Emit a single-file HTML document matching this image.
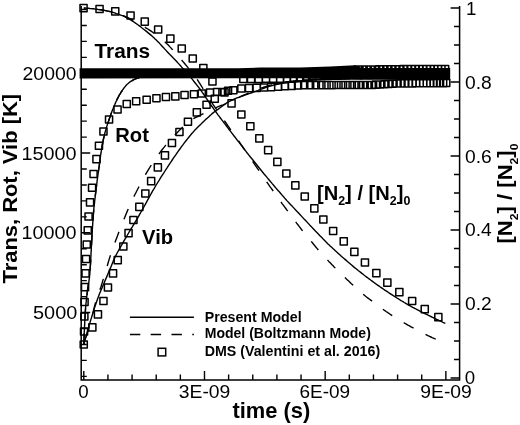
<!DOCTYPE html>
<html><head><meta charset="utf-8"><style>
html,body{margin:0;padding:0;background:#fff;}
svg{display:block;font-family:"Liberation Sans",Arial,Helvetica,sans-serif;}
</style></head><body>
<svg width="520" height="425" viewBox="0 0 520 425">
<path d="M81.2 6.0V380.75M80.45 380.0H460.35M459.6 380.75V6.0" fill="none" stroke="#000" stroke-width="1.5"/>
<path d="M81.2 376.35h5.6M81.2 360.40h5.6M81.2 344.45h5.6M81.2 328.50h5.6M81.2 312.55h9M81.2 296.60h5.6M81.2 280.65h5.6M81.2 264.70h5.6M81.2 248.75h5.6M81.2 232.80h9M81.2 216.85h5.6M81.2 200.90h5.6M81.2 184.95h5.6M81.2 169.00h5.6M81.2 153.05h9M81.2 137.10h5.6M81.2 121.15h5.6M81.2 105.20h5.6M81.2 89.25h5.6M81.2 73.30h9M81.2 57.35h5.6M81.2 41.40h5.6M81.2 25.45h5.6M81.2 9.50h5.6M83.80 380.0v-9M107.94 380.0v-5.6M132.08 380.0v-5.6M156.21 380.0v-5.6M180.35 380.0v-5.6M204.49 380.0v-9M228.63 380.0v-5.6M252.77 380.0v-5.6M276.90 380.0v-5.6M301.04 380.0v-5.6M325.18 380.0v-9M349.32 380.0v-5.6M373.46 380.0v-5.6M397.59 380.0v-5.6M421.73 380.0v-5.6M445.87 380.0v-9M459.6 378.00h-9M459.6 359.50h-5.6M459.6 341.00h-5.6M459.6 322.50h-5.6M459.6 304.00h-9M459.6 285.50h-5.6M459.6 267.00h-5.6M459.6 248.50h-5.6M459.6 230.00h-9M459.6 211.50h-5.6M459.6 193.00h-5.6M459.6 174.50h-5.6M459.6 156.00h-9M459.6 137.50h-5.6M459.6 119.00h-5.6M459.6 100.50h-5.6M459.6 82.00h-9M459.6 63.50h-5.6M459.6 45.00h-5.6M459.6 26.50h-5.6M459.6 8.00h-9" fill="none" stroke="#000" stroke-width="1.4"/>
<polyline points="83.8,8.0 85.0,8.1 86.2,8.1 87.4,8.2 88.6,8.3 89.8,8.5 91.1,8.6 92.3,8.7 93.5,8.8 94.7,9.0 95.9,9.1 97.1,9.3 98.3,9.5 99.5,9.6 100.7,9.8 101.9,10.0 103.1,10.2 104.4,10.4 105.6,10.6 106.8,10.9 108.0,11.1 109.2,11.4 110.4,11.7 111.6,12.0 112.8,12.3 114.0,12.7 115.2,13.1 116.4,13.6 117.7,14.0 118.9,14.5 120.1,14.9 121.3,15.3 122.5,15.7 123.7,16.2 124.9,16.7 126.1,17.3 127.3,17.9 128.5,18.6 129.7,19.4 131.0,20.2 132.2,20.9 133.4,21.7 134.6,22.5 135.8,23.3 137.0,24.2 138.2,25.0 139.4,25.9 140.6,26.8 141.8,27.8 143.0,28.7 144.3,29.7 145.5,30.6 146.7,31.6 147.9,32.6 149.1,33.6 150.3,34.6 151.5,35.6 152.7,36.7 153.9,37.8 155.1,39.0 156.3,40.1 157.6,41.4 158.8,42.6 160.0,43.9 161.2,45.2 162.4,46.5 163.6,47.8 164.8,49.1 166.0,50.4 167.2,51.7 168.4,53.0 169.6,54.3 170.9,55.5 172.1,56.7 173.3,58.0 174.5,59.2 175.7,60.5 176.9,61.8 178.1,63.1 179.3,64.4 180.5,65.7 181.7,67.1 182.9,68.4 184.1,69.8 185.4,71.1 186.6,72.5 187.8,73.9 189.0,75.3 190.2,76.7 191.4,78.1 192.6,79.6 193.8,81.2 195.0,82.7 196.2,84.2 197.4,85.8 198.7,87.4 199.9,89.0 201.1,90.7 202.3,92.4 203.5,94.0 204.7,95.8 205.9,97.6 207.1,99.4 208.3,101.2 209.5,103.0 210.7,104.8 212.0,106.5 213.2,108.2 214.4,109.9 215.6,111.5 216.8,113.1 218.0,114.8 219.2,116.4 220.4,118.0 221.6,119.6 222.8,121.2 224.0,122.8 225.3,124.4 226.5,126.0 227.7,127.6 228.9,129.2 230.1,130.7 231.3,132.3 232.5,133.9 233.7,135.5 234.9,137.0 236.1,138.6 237.3,140.2 238.6,141.7 239.8,143.3 241.0,144.9 242.2,146.4 243.4,148.0 244.6,149.6 245.8,151.1 247.0,152.7 248.2,154.2 249.4,155.8 250.6,157.3 251.9,158.8 253.1,160.3 254.3,161.8 255.5,163.3 256.7,164.8 257.9,166.3 259.1,167.8 260.3,169.3 261.5,170.8 262.7,172.2 263.9,173.7 265.2,175.2 266.4,176.6 267.6,178.1 268.8,179.5 270.0,181.0 271.2,182.4 272.4,183.9 273.6,185.3 274.8,186.7 276.0,188.1 277.2,189.5 278.5,190.9 279.7,192.3 280.9,193.7 282.1,195.1 283.3,196.5 284.5,197.9 285.7,199.2 286.9,200.6 288.1,201.9 289.3,203.2 290.5,204.5 291.8,205.8 293.0,207.1 294.2,208.4 295.4,209.7 296.6,211.0 297.8,212.2 299.0,213.5 300.2,214.8 301.4,216.1 302.6,217.4 303.8,218.7 305.1,220.0 306.3,221.3 307.5,222.6 308.7,223.9 309.9,225.2 311.1,226.4 312.3,227.7 313.5,229.0 314.7,230.3 315.9,231.6 317.1,232.8 318.4,234.1 319.6,235.4 320.8,236.6 322.0,237.8 323.2,239.1 324.4,240.3 325.6,241.5 326.8,242.7 328.0,243.9 329.2,245.0 330.4,246.2 331.7,247.3 332.9,248.5 334.1,249.6 335.3,250.7 336.5,251.8 337.7,252.9 338.9,254.0 340.1,255.1 341.3,256.2 342.5,257.3 343.7,258.3 345.0,259.4 346.2,260.4 347.4,261.5 348.6,262.5 349.8,263.5 351.0,264.5 352.2,265.5 353.4,266.6 354.6,267.6 355.8,268.5 357.0,269.5 358.2,270.5 359.5,271.5 360.7,272.4 361.9,273.4 363.1,274.3 364.3,275.3 365.5,276.2 366.7,277.1 367.9,278.0 369.1,278.9 370.3,279.8 371.5,280.7 372.8,281.6 374.0,282.5 375.2,283.4 376.4,284.2 377.6,285.1 378.8,285.9 380.0,286.8 381.2,287.6 382.4,288.4 383.6,289.2 384.8,290.1 386.1,290.9 387.3,291.7 388.5,292.5 389.7,293.3 390.9,294.1 392.1,294.9 393.3,295.7 394.5,296.4 395.7,297.2 396.9,298.0 398.1,298.7 399.4,299.5 400.6,300.3 401.8,301.0 403.0,301.7 404.2,302.5 405.4,303.2 406.6,303.9 407.8,304.6 409.0,305.3 410.2,305.9 411.4,306.6 412.7,307.3 413.9,307.9 415.1,308.5 416.3,309.2 417.5,309.8 418.7,310.4 419.9,311.1 421.1,311.7 422.3,312.3 423.5,312.9 424.7,313.5 426.0,314.1 427.2,314.7 428.4,315.3 429.6,315.9 430.8,316.5 432.0,317.1 433.2,317.7 434.4,318.3 435.6,318.9 436.8,319.5 438.0,320.0 439.3,320.6 440.5,321.2 441.7,321.7 442.9,322.3 444.1,322.8 445.3,323.4" fill="none" stroke="#000" stroke-width="1.4"/>
<polyline points="83.8,8.0 85.0,8.1 86.2,8.1 87.4,8.2 88.6,8.3 89.8,8.5 91.1,8.6 92.3,8.7 93.5,8.9 94.7,9.0 95.9,9.1 97.1,9.3 98.3,9.5 99.5,9.6 100.7,9.8 101.9,10.0 103.1,10.2 104.4,10.4 105.6,10.6 106.8,10.9 108.0,11.2 109.2,11.4 110.4,11.7 111.6,12.0 112.8,12.3 114.0,12.7 115.2,13.1 116.5,13.4 117.7,13.8 118.9,14.3 120.1,14.7 121.3,15.1 122.5,15.5 123.7,16.0 124.9,16.5 126.1,17.0 127.3,17.5 128.5,18.0 129.8,18.6 131.0,19.1 132.2,19.7 133.4,20.4 134.6,21.0 135.8,21.6 137.0,22.3 138.2,23.1 139.4,23.8 140.6,24.6 141.8,25.3 143.1,26.1 144.3,26.8 145.5,27.6 146.7,28.3 147.9,29.0 149.1,29.8 150.3,30.6 151.5,31.4 152.7,32.2 153.9,33.1 155.2,33.9 156.4,34.8 157.6,35.7 158.8,36.7 160.0,37.7 161.2,38.6 162.4,39.7 163.6,40.7 164.8,41.8 166.0,42.9 167.2,44.1 168.5,45.3 169.7,46.6 170.9,47.9 172.1,49.2 173.3,50.5 174.5,51.9 175.7,53.2 176.9,54.6 178.1,56.0 179.3,57.4 180.5,58.8 181.8,60.2 183.0,61.6 184.2,63.0 185.4,64.5 186.6,65.9 187.8,67.4 189.0,68.8 190.2,70.3 191.4,71.8 192.6,73.3 193.9,74.9 195.1,76.5 196.3,78.2 197.5,79.9 198.7,81.8 199.9,83.7 201.1,85.6 202.3,87.5 203.5,89.4 204.7,91.3 205.9,93.3 207.2,95.2 208.4,97.2 209.6,99.1 210.8,101.0 212.0,102.8 213.2,104.7 214.4,106.4 215.6,108.2 216.8,109.9 218.0,111.6 219.2,113.4 220.5,115.1 221.7,116.8 222.9,118.6 224.1,120.3 225.3,122.0 226.5,123.7 227.7,125.5 228.9,127.2 230.1,128.9 231.3,130.6 232.6,132.4 233.8,134.1 235.0,135.8 236.2,137.5 237.4,139.3 238.6,141.0 239.8,142.7 241.0,144.5 242.2,146.2 243.4,148.0 244.6,149.7 245.9,151.5 247.1,153.2 248.3,155.0 249.5,156.7 250.7,158.5 251.9,160.3 253.1,162.0 254.3,163.8 255.5,165.6 256.7,167.4 257.9,169.2 259.2,170.9 260.4,172.7 261.6,174.5 262.8,176.2 264.0,178.0 265.2,179.7 266.4,181.5 267.6,183.2 268.8,184.9 270.0,186.6 271.3,188.3 272.5,190.0 273.7,191.7 274.9,193.4 276.1,195.1 277.3,196.9 278.5,198.5 279.7,200.2 280.9,201.9 282.1,203.6 283.3,205.2 284.6,206.9 285.8,208.5 287.0,210.2 288.2,211.8 289.4,213.4 290.6,215.1 291.8,216.7 293.0,218.3 294.2,219.9 295.4,221.5 296.6,223.1 297.9,224.7 299.1,226.3 300.3,227.9 301.5,229.5 302.7,231.0 303.9,232.5 305.1,234.0 306.3,235.5 307.5,237.0 308.7,238.5 310.0,239.9 311.2,241.4 312.4,242.8 313.6,244.3 314.8,245.7 316.0,247.2 317.2,248.6 318.4,250.0 319.6,251.3 320.8,252.7 322.0,254.0 323.3,255.4 324.5,256.7 325.7,258.0 326.9,259.3 328.1,260.6 329.3,261.9 330.5,263.1 331.7,264.4 332.9,265.6 334.1,266.9 335.3,268.1 336.6,269.3 337.8,270.5 339.0,271.7 340.2,272.9 341.4,274.1 342.6,275.3 343.8,276.5 345.0,277.6 346.2,278.8 347.4,279.9 348.7,281.1 349.9,282.2 351.1,283.4 352.3,284.5 353.5,285.6 354.7,286.8 355.9,287.9 357.1,289.0 358.3,290.1 359.5,291.2 360.7,292.3 362.0,293.3 363.2,294.3 364.4,295.3 365.6,296.3 366.8,297.2 368.0,298.1 369.2,299.0 370.4,299.9 371.6,300.8 372.8,301.7 374.0,302.6 375.3,303.5 376.5,304.5 377.7,305.4 378.9,306.3 380.1,307.2 381.3,308.1 382.5,309.0 383.7,309.8 384.9,310.7 386.1,311.5 387.4,312.3 388.6,313.2 389.8,314.0 391.0,314.8 392.2,315.6 393.4,316.4 394.6,317.2 395.8,317.9 397.0,318.7 398.2,319.4 399.4,320.1 400.7,320.9 401.9,321.6 403.1,322.3 404.3,323.0 405.5,323.7 406.7,324.4 407.9,325.1 409.1,325.7 410.3,326.4 411.5,327.1 412.7,327.7 414.0,328.4 415.2,329.0 416.4,329.7 417.6,330.3 418.8,330.9 420.0,331.6 421.2,332.2 422.4,332.8 423.6,333.4 424.8,334.1 426.1,334.7 427.3,335.3 428.5,335.9 429.7,336.4 430.9,337.0 432.1,337.6 433.3,338.1 434.5,338.7 435.7,339.2 436.9,339.8 438.1,340.3 439.4,340.9 440.6,341.4 441.8,341.9 443.0,342.4 444.2,342.9 445.4,343.4" fill="none" stroke="#000" stroke-width="1.4" stroke-dasharray="11.3 13.48" stroke-dashoffset="9.44"/>
<polyline points="83.8,344.5 85.0,340.2 86.2,335.9 87.4,331.5 88.6,327.1 89.9,322.9 91.1,318.9 92.3,315.0 93.5,311.1 94.7,307.4 95.9,303.8 97.1,300.3 98.3,297.0 99.5,293.8 100.8,290.8 102.0,287.9 103.2,285.0 104.4,282.2 105.6,279.4 106.8,276.6 108.0,273.7 109.2,270.9 110.5,267.9 111.7,264.9 112.9,261.9 114.1,259.1 115.3,256.6 116.5,254.2 117.7,252.0 118.9,249.8 120.1,247.6 121.4,245.5 122.6,243.3 123.8,241.2 125.0,239.1 126.2,237.1 127.4,235.0 128.6,233.0 129.8,230.9 131.0,228.9 132.3,226.9 133.5,224.9 134.7,222.9 135.9,220.9 137.1,218.9 138.3,216.8 139.5,214.7 140.7,212.5 141.9,210.4 143.2,208.2 144.4,206.0 145.6,203.8 146.8,201.6 148.0,199.4 149.2,197.2 150.4,195.0 151.6,192.8 152.8,190.7 154.1,188.6 155.3,186.5 156.5,184.5 157.7,182.5 158.9,180.6 160.1,178.6 161.3,176.7 162.5,174.8 163.8,172.9 165.0,171.0 166.2,169.1 167.4,167.3 168.6,165.4 169.8,163.6 171.0,161.8 172.2,160.0 173.4,158.2 174.7,156.4 175.9,154.7 177.1,152.9 178.3,151.2 179.5,149.5 180.7,147.8 181.9,146.2 183.1,144.6 184.3,142.9 185.6,141.3 186.8,139.8 188.0,138.2 189.2,136.7 190.4,135.3 191.6,133.8 192.8,132.5 194.0,131.1 195.2,129.8 196.5,128.5 197.7,127.3 198.9,126.1 200.1,124.9 201.3,123.8 202.5,122.6 203.7,121.4 204.9,120.3 206.1,119.1 207.4,118.0 208.6,116.9 209.8,115.7 211.0,114.7 212.2,113.6 213.4,112.6 214.6,111.7 215.8,110.8 217.1,109.9 218.3,109.1 219.5,108.2 220.7,107.3 221.9,106.4 223.1,105.5 224.3,104.6 225.5,103.8 226.7,102.9 228.0,102.2 229.2,101.5 230.4,100.9 231.6,100.3 232.8,99.8 234.0,99.2 235.2,98.7 236.4,98.2 237.6,97.7 238.9,97.3 240.1,96.8 241.3,96.4 242.5,96.0 243.7,95.5 244.9,95.1 246.1,94.7 247.3,94.3 248.5,93.8 249.8,93.4 251.0,93.0 252.2,92.6 253.4,92.2 254.6,91.7 255.8,91.3 257.0,90.8 258.2,90.4 259.4,89.9 260.7,89.4 261.9,88.9 263.1,88.5 264.3,88.0 265.5,87.6 266.7,87.2 267.9,86.8 269.1,86.4 270.4,86.1 271.6,85.7 272.8,85.4 274.0,85.0 275.2,84.8 276.4,84.5 277.6,84.2 278.8,84.0 280.0,83.7 281.3,83.4 282.5,83.2 283.7,83.0 284.9,82.7 286.1,82.5 287.3,82.3 288.5,82.1 289.7,81.9 290.9,81.8 292.2,81.6 293.4,81.5 294.6,81.3 295.8,81.2 297.0,81.1 298.2,81.0 299.4,80.9 300.6,80.9 301.8,80.8 303.1,80.7 304.3,80.6 305.5,80.5 306.7,80.5 307.9,80.4 309.1,80.3 310.3,80.3 311.5,80.2 312.7,80.2 314.0,80.1 315.2,80.0 316.4,80.0 317.6,79.9 318.8,79.9 320.0,79.9 321.2,79.8 322.4,79.8 323.7,79.7 324.9,79.7 326.1,79.6 327.3,79.6 328.5,79.6 329.7,79.5 330.9,79.5 332.1,79.4 333.3,79.4 334.6,79.4 335.8,79.3 337.0,79.3 338.2,79.2 339.4,79.2 340.6,79.2 341.8,79.1 343.0,79.1 344.2,79.1 345.5,79.0 346.7,79.0 347.9,79.0 349.1,79.0 350.3,78.9 351.5,78.9 352.7,78.9 353.9,78.8 355.1,78.8 356.4,78.8 357.6,78.8 358.8,78.7 360.0,78.7 361.2,78.7 362.4,78.7 363.6,78.6 364.8,78.6 366.0,78.6 367.3,78.6 368.5,78.5 369.7,78.5 370.9,78.5 372.1,78.5 373.3,78.4 374.5,78.4 375.7,78.4 377.0,78.4 378.2,78.3 379.4,78.3 380.6,78.3 381.8,78.3 383.0,78.2 384.2,78.2 385.4,78.2 386.6,78.2 387.9,78.1 389.1,78.1 390.3,78.1 391.5,78.1 392.7,78.1 393.9,78.0 395.1,78.0 396.3,78.0 397.5,78.0 398.8,77.9 400.0,77.9 401.2,77.9 402.4,77.9 403.6,77.9 404.8,77.8 406.0,77.8 407.2,77.8 408.4,77.8 409.7,77.7 410.9,77.7 412.1,77.7 413.3,77.7 414.5,77.7 415.7,77.6 416.9,77.6 418.1,77.6 419.3,77.6 420.6,77.6 421.8,77.5 423.0,77.5 424.2,77.5 425.4,77.5 426.6,77.5 427.8,77.5 429.0,77.4 430.3,77.4 431.5,77.4 432.7,77.4 433.9,77.4 435.1,77.3 436.3,77.3 437.5,77.3 438.7,77.3 439.9,77.3 441.2,77.3 442.4,77.2 443.6,77.2 444.8,77.2 446.0,77.2" fill="none" stroke="#000" stroke-width="1.4"/>
<polyline points="83.8,344.5 85.0,340.6 86.2,336.6 87.4,332.6 88.6,328.6 89.9,324.5 91.1,320.2 92.3,315.5 93.5,310.4 94.7,305.6 95.9,301.3 97.1,297.4 98.3,293.8 99.5,290.6 100.8,287.2 102.0,283.4 103.2,279.4 104.4,275.5 105.6,271.5 106.8,267.5 108.0,263.3 109.2,259.1 110.5,255.2 111.7,251.6 112.9,248.2 114.1,244.9 115.3,241.6 116.5,238.4 117.7,235.2 118.9,232.0 120.1,228.9 121.4,225.9 122.6,222.8 123.8,219.7 125.0,216.7 126.2,213.7 127.4,210.9 128.6,208.0 129.8,205.3 131.0,202.6 132.3,200.0 133.5,197.5 134.7,195.0 135.9,192.7 137.1,190.3 138.3,188.0 139.5,185.7 140.7,183.4 141.9,181.1 143.2,178.8 144.4,176.6 145.6,174.4 146.8,172.3 148.0,170.3 149.2,168.4 150.4,166.5 151.6,164.6 152.8,162.7 154.1,160.9 155.3,159.1 156.5,157.4 157.7,155.6 158.9,154.0 160.1,152.3 161.3,150.7 162.5,149.2 163.8,147.6 165.0,146.1 166.2,144.6 167.4,143.2 168.6,141.7 169.8,140.3 171.0,139.0 172.2,137.7 173.4,136.4 174.7,135.1 175.9,133.9 177.1,132.7 178.3,131.5 179.5,130.3 180.7,129.1 181.9,127.9 183.1,126.8 184.3,125.7 185.6,124.6 186.8,123.6 188.0,122.6 189.2,121.6 190.4,120.7 191.6,119.9 192.8,119.1 194.0,118.4 195.2,117.7 196.5,117.1 197.7,116.5 198.9,115.9 200.1,115.3 201.3,114.7 202.5,114.1 203.7,113.5 204.9,112.9 206.1,112.3 207.4,111.7 208.6,111.1 209.8,110.5 211.0,109.9 212.2,109.3 213.4,108.8 214.6,108.2 215.8,107.7 217.1,107.2 218.3,106.7 219.5,106.2 220.7,105.7 221.9,105.2 223.1,104.8 224.3,104.3 225.5,103.8 226.7,103.2 228.0,102.7 229.2,102.1 230.4,101.5 231.6,100.9 232.8,100.3 234.0,99.7 235.2,99.1 236.4,98.5 237.6,97.9 238.9,97.3 240.1,96.8 241.3,96.2 242.5,95.6 243.7,95.1 244.9,94.6 246.1,94.1 247.3,93.6 248.5,93.1 249.8,92.6 251.0,92.2 252.2,91.7 253.4,91.2 254.6,90.8 255.8,90.3 257.0,89.8 258.2,89.3 259.4,88.8 260.7,88.4 261.9,87.9 263.1,87.5 264.3,87.0 265.5,86.6 266.7,86.3 267.9,85.9 269.1,85.5 270.4,85.2 271.6,84.8 272.8,84.5 274.0,84.2 275.2,84.0 276.4,83.7 277.6,83.5 278.8,83.2 280.0,83.0 281.3,82.8 282.5,82.6 283.7,82.4 284.9,82.2 286.1,82.0 287.3,81.8 288.5,81.6 289.7,81.4 290.9,81.3 292.2,81.2 293.4,81.0 294.6,80.9 295.8,80.8 297.0,80.7 298.2,80.6 299.4,80.6 300.6,80.5 301.8,80.4 303.1,80.3 304.3,80.3 305.5,80.2 306.7,80.1 307.9,80.1 309.1,80.0 310.3,79.9 311.5,79.9 312.7,79.8 314.0,79.8 315.2,79.7 316.4,79.7 317.6,79.6 318.8,79.6 320.0,79.5 321.2,79.5 322.4,79.4 323.7,79.4 324.9,79.4 326.1,79.3 327.3,79.3 328.5,79.2 329.7,79.2 330.9,79.2 332.1,79.1 333.3,79.1 334.6,79.1 335.8,79.0 337.0,79.0 338.2,79.0 339.4,78.9 340.6,78.9 341.8,78.9 343.0,78.8 344.2,78.8 345.5,78.8 346.7,78.8 347.9,78.7 349.1,78.7 350.3,78.7 351.5,78.7 352.7,78.6 353.9,78.6 355.1,78.6 356.4,78.5 357.6,78.5 358.8,78.5 360.0,78.5 361.2,78.5 362.4,78.4 363.6,78.4 364.8,78.4 366.0,78.4 367.3,78.3 368.5,78.3 369.7,78.3 370.9,78.3 372.1,78.2 373.3,78.2 374.5,78.2 375.7,78.2 377.0,78.2 378.2,78.1 379.4,78.1 380.6,78.1 381.8,78.1 383.0,78.0 384.2,78.0 385.4,78.0 386.6,78.0 387.9,78.0 389.1,77.9 390.3,77.9 391.5,77.9 392.7,77.9 393.9,77.8 395.1,77.8 396.3,77.8 397.5,77.8 398.8,77.8 400.0,77.7 401.2,77.7 402.4,77.7 403.6,77.7 404.8,77.6 406.0,77.6 407.2,77.6 408.4,77.6 409.7,77.6 410.9,77.5 412.1,77.5 413.3,77.5 414.5,77.5 415.7,77.5 416.9,77.4 418.1,77.4 419.3,77.4 420.6,77.4 421.8,77.4 423.0,77.3 424.2,77.3 425.4,77.3 426.6,77.3 427.8,77.3 429.0,77.2 430.3,77.2 431.5,77.2 432.7,77.2 433.9,77.2 435.1,77.2 436.3,77.1 437.5,77.1 438.7,77.1 439.9,77.1 441.2,77.1 442.4,77.1 443.6,77.0 444.8,77.0 446.0,77.0" fill="none" stroke="#000" stroke-width="1.4" stroke-dasharray="11.3 13.48" stroke-dashoffset="17.14"/>
<polyline points="83.8,344.5 83.8,343.0 83.9,341.6 84.0,340.1 84.0,338.6 84.1,337.1 84.1,335.7 84.2,334.2 84.2,332.7 84.3,331.3 84.4,329.8 84.4,328.3 84.5,326.8 84.6,325.4 84.7,323.9 84.7,322.4 84.8,321.0 84.9,319.5 85.0,318.0 85.0,316.5 85.1,315.1 85.2,313.6 85.3,312.1 85.4,310.7 85.5,309.2 85.6,307.7 85.7,306.3 85.9,304.8 86.0,303.3 86.2,301.9 86.3,300.4 86.5,298.9 86.6,297.5 86.8,296.0 87.0,294.6 87.2,293.1 87.3,291.6 87.5,290.2 87.7,288.7 88.0,287.3 88.2,285.8 88.4,284.3 88.7,282.9 88.9,281.4 89.1,280.0 89.3,278.5 89.5,277.1 89.6,275.6 89.8,274.1 89.9,272.7 90.0,271.2 90.1,269.7 90.2,268.3 90.3,266.8 90.4,265.3 90.5,263.9 90.6,262.4 90.7,260.9 90.7,259.4 90.8,258.0 90.9,256.5 91.0,255.0 91.0,253.6 91.1,252.1 91.2,250.6 91.3,249.1 91.3,247.7 91.4,246.2 91.5,244.7 91.6,243.3 91.7,241.8 91.8,240.3 91.9,238.8 91.9,237.4 92.0,235.9 92.1,234.4 92.2,233.0 92.3,231.5 92.3,230.0 92.4,228.6 92.5,227.1 92.6,225.6 92.7,224.1 92.8,222.7 92.9,221.2 93.0,219.7 93.1,218.3 93.2,216.8 93.3,215.3 93.4,213.9 93.5,212.4 93.7,210.9 93.8,209.5 93.9,208.0 94.1,206.5 94.2,205.1 94.4,203.6 94.6,202.1 94.7,200.7 94.9,199.2 95.1,197.8 95.2,196.3 95.4,194.8 95.6,193.4 95.8,191.9 95.9,190.4 96.1,189.0 96.3,187.5 96.5,186.1 96.7,184.6 96.9,183.1 97.0,181.7 97.2,180.2 97.4,178.8 97.6,177.3 97.8,175.8 98.0,174.4 98.2,172.9 98.4,171.5 98.6,170.0 98.8,168.5 99.1,167.1 99.3,165.6 99.4,164.2 99.6,162.7 99.8,161.2 100.0,159.8 100.2,158.3 100.4,156.9 100.6,155.4 100.8,154.0 101.1,152.5 101.3,151.0 101.5,149.6 101.8,148.1 102.0,146.7 102.3,145.2 102.6,143.8 102.8,142.3 103.1,140.9 103.4,139.4 103.7,138.0 104.1,136.6 104.4,135.1 104.7,133.7 105.1,132.3 105.5,130.9 105.9,129.5 106.3,128.0 106.7,126.6 107.2,125.2 107.6,123.8 108.1,122.4 108.6,121.0 109.1,119.6 109.5,118.2 110.0,116.9 110.5,115.5 111.0,114.1 111.5,112.7 112.0,111.3 112.5,109.9 113.1,108.5 113.6,107.2 114.2,105.8 114.8,104.5 115.4,103.1 116.0,101.8 116.6,100.5 117.2,99.1 117.9,97.8 118.6,96.5 119.3,95.2 120.1,94.0 120.8,92.7 121.6,91.5 122.4,90.2 123.3,89.0 124.2,87.7 125.1,86.6 126.0,85.5 127.0,84.4 128.1,83.5 129.2,82.5 130.4,81.6 131.7,80.8 133.0,80.1 134.3,79.4 135.6,78.8 137.0,78.3 138.4,77.8 139.8,77.4 141.3,77.2 142.7,76.9 144.2,76.8 145.6,76.6 147.1,76.4 148.5,76.3 150.0,76.1 151.5,76.0 153.0,75.9 154.4,75.8 155.9,75.7 157.4,75.6 158.9,75.5 160.4,75.5 161.8,75.4 163.3,75.4 164.8,75.3 166.2,75.3 167.7,75.2 169.2,75.2 170.6,75.1 172.1,75.1 173.6,75.0 175.1,75.0 176.5,75.0 178.0,74.9 179.5,74.9 180.9,74.9 182.4,74.8 183.9,74.8 185.4,74.8 186.8,74.7 188.3,74.7 189.8,74.7 191.3,74.6 192.7,74.6 194.2,74.6 195.7,74.6 197.2,74.5 198.6,74.5 200.1,74.5 201.6,74.5 203.0,74.5 204.5,74.4 206.0,74.4 207.5,74.4 208.9,74.4 210.4,74.3 211.9,74.3 213.3,74.3 214.8,74.3 216.3,74.2 217.8,74.2 219.2,74.2 220.7,74.2 222.2,74.2 223.7,74.1 225.1,74.1 226.6,74.1 228.1,74.1 229.5,74.1 231.0,74.0 232.5,74.0 234.0,74.0 235.4,74.0 236.9,74.0 238.4,74.0 239.9,73.9 241.3,73.9 242.8,73.9 244.3,73.9 245.7,73.9 247.2,73.9 248.7,73.9 250.2,73.9 251.6,73.8 253.1,73.8 254.6,73.8 256.0,73.8 257.5,73.8 259.0,73.8 260.5,73.8 261.9,73.8 263.4,73.8 264.9,73.8 266.4,73.8 267.8,73.8 269.3,73.8 270.8,73.8 272.2,73.8 273.7,73.8 275.2,73.8 276.7,73.7 278.1,73.7 279.6,73.7 281.1,73.7 282.6,73.7 284.0,73.7 285.5,73.7 287.0,73.7 288.4,73.7 289.9,73.7 291.4,73.7 292.9,73.7 294.3,73.7 295.8,73.7 297.3,73.7 298.7,73.7 300.2,73.7 301.7,73.7 303.2,73.7 304.6,73.7 306.1,73.7 307.6,73.7 309.1,73.7 310.5,73.7 312.0,73.7 313.5,73.7 314.9,73.6 316.4,73.6 317.9,73.6 319.4,73.6 320.8,73.6 322.3,73.6 323.8,73.6 325.3,73.6 326.7,73.6 328.2,73.6 329.7,73.6 331.1,73.6 332.6,73.6 334.1,73.6 335.6,73.6 337.0,73.6 338.5,73.6 340.0,73.6 341.5,73.6 342.9,73.6 344.4,73.6 345.9,73.6 347.3,73.6 348.8,73.6 350.3,73.6 351.8,73.6 353.2,73.6 354.7,73.6 356.2,73.6 357.6,73.6 359.1,73.6 360.6,73.6 362.1,73.6 363.5,73.6 365.0,73.6 366.5,73.6 368.0,73.6 369.4,73.6 370.9,73.5 372.4,73.5 373.8,73.5 375.3,73.5 376.8,73.5 378.3,73.5 379.7,73.5 381.2,73.5 382.7,73.5 384.2,73.5 385.6,73.5 387.1,73.5 388.6,73.5 390.0,73.5 391.5,73.5 393.0,73.5 394.5,73.5 395.9,73.5 397.4,73.5 398.9,73.5 400.4,73.5 401.8,73.5 403.3,73.5 404.8,73.5 406.2,73.5 407.7,73.5 409.2,73.5 410.7,73.5 412.1,73.5 413.6,73.5 415.1,73.5 416.5,73.5 418.0,73.5 419.5,73.5 421.0,73.5 422.4,73.5 423.9,73.5 425.4,73.5 426.9,73.5 428.3,73.5 429.8,73.5 431.3,73.5 432.7,73.5 434.2,73.5 435.7,73.5 437.2,73.5 438.6,73.5 440.1,73.5 441.6,73.5 443.1,73.5 444.5,73.5 446.0,73.5" fill="none" stroke="#000" stroke-width="1.4"/>
<polyline points="83.8,344.5 83.8,343.0 83.9,341.6 84.0,340.1 84.0,338.6 84.1,337.1 84.1,335.7 84.2,334.2 84.2,332.7 84.3,331.3 84.4,329.8 84.4,328.3 84.5,326.8 84.6,325.4 84.7,323.9 84.7,322.4 84.8,321.0 84.9,319.5 85.0,318.0 85.0,316.5 85.1,315.1 85.2,313.6 85.3,312.1 85.4,310.7 85.5,309.2 85.6,307.7 85.7,306.3 85.9,304.8 86.0,303.3 86.2,301.9 86.3,300.4 86.5,298.9 86.6,297.5 86.8,296.0 87.0,294.6 87.2,293.1 87.3,291.6 87.5,290.2 87.7,288.7 88.0,287.3 88.2,285.8 88.4,284.3 88.7,282.9 88.9,281.4 89.1,280.0 89.3,278.5 89.5,277.1 89.6,275.6 89.8,274.1 89.9,272.7 90.0,271.2 90.1,269.7 90.2,268.3 90.3,266.8 90.4,265.3 90.5,263.9 90.6,262.4 90.7,260.9 90.7,259.4 90.8,258.0 90.9,256.5 91.0,255.0 91.0,253.6 91.1,252.1 91.2,250.6 91.3,249.1 91.3,247.7 91.4,246.2 91.5,244.7 91.6,243.3 91.7,241.8 91.8,240.3 91.9,238.8 91.9,237.4 92.0,235.9 92.1,234.4 92.2,233.0 92.3,231.5 92.3,230.0 92.4,228.6 92.5,227.1 92.6,225.6 92.7,224.1 92.8,222.7 92.9,221.2 93.0,219.7 93.1,218.3 93.2,216.8 93.3,215.3 93.4,213.9 93.5,212.4 93.7,210.9 93.8,209.5 93.9,208.0 94.1,206.5 94.2,205.1 94.4,203.6 94.6,202.1 94.7,200.7 94.9,199.2 95.1,197.8 95.2,196.3 95.4,194.8 95.6,193.4 95.8,191.9 95.9,190.4 96.1,189.0 96.3,187.5 96.5,186.1 96.7,184.6 96.9,183.1 97.0,181.7 97.2,180.2 97.4,178.8 97.6,177.3 97.8,175.8 98.0,174.4 98.2,172.9 98.4,171.5 98.6,170.0 98.8,168.5 99.1,167.1 99.3,165.6 99.4,164.2 99.6,162.7 99.8,161.2 100.0,159.8 100.2,158.3 100.4,156.9 100.6,155.4 100.8,154.0 101.1,152.5 101.3,151.0 101.5,149.6 101.8,148.1 102.0,146.7 102.3,145.2 102.6,143.8 102.8,142.3 103.1,140.9 103.4,139.4 103.7,138.0 104.1,136.6 104.4,135.1 104.7,133.7 105.1,132.3 105.5,130.9 105.9,129.5 106.3,128.0 106.7,126.6 107.2,125.2 107.6,123.8 108.1,122.4 108.6,121.0 109.1,119.6 109.5,118.2 110.0,116.9 110.5,115.5 111.0,114.1 111.5,112.7 112.0,111.3 112.5,109.9 113.1,108.5 113.6,107.2 114.2,105.8 114.8,104.5 115.4,103.1 116.0,101.8 116.6,100.5 117.2,99.1 117.9,97.8 118.6,96.5 119.3,95.2 120.1,94.0 120.8,92.7 121.6,91.5 122.4,90.2 123.3,89.0 124.2,87.7 125.1,86.6 126.0,85.5 127.0,84.4 128.1,83.5 129.2,82.5 130.4,81.6 131.7,80.8 133.0,80.1 134.3,79.4 135.6,78.8 137.0,78.3 138.4,77.8 139.8,77.4 141.3,77.2 142.7,76.9 144.2,76.8 145.6,76.6 147.1,76.4 148.5,76.3 150.0,76.1 151.5,76.0 153.0,75.9 154.4,75.8 155.9,75.7 157.4,75.6 158.9,75.5 160.4,75.5 161.8,75.4 163.3,75.4 164.8,75.3 166.2,75.3 167.7,75.2 169.2,75.2 170.6,75.1 172.1,75.1 173.6,75.0 175.1,75.0 176.5,75.0 178.0,74.9 179.5,74.9 180.9,74.9 182.4,74.8 183.9,74.8 185.4,74.8 186.8,74.7 188.3,74.7 189.8,74.7 191.3,74.6 192.7,74.6 194.2,74.6 195.7,74.6 197.2,74.5 198.6,74.5 200.1,74.5 201.6,74.5 203.0,74.5 204.5,74.4 206.0,74.4 207.5,74.4 208.9,74.4 210.4,74.3 211.9,74.3 213.3,74.3 214.8,74.3 216.3,74.2 217.8,74.2 219.2,74.2 220.7,74.2 222.2,74.2 223.7,74.1 225.1,74.1 226.6,74.1 228.1,74.1 229.5,74.1 231.0,74.0 232.5,74.0 234.0,74.0 235.4,74.0 236.9,74.0 238.4,74.0 239.9,73.9 241.3,73.9 242.8,73.9 244.3,73.9 245.7,73.9 247.2,73.9 248.7,73.9 250.2,73.9 251.6,73.8 253.1,73.8 254.6,73.8 256.0,73.8 257.5,73.8 259.0,73.8 260.5,73.8 261.9,73.8 263.4,73.8 264.9,73.8 266.4,73.8 267.8,73.8 269.3,73.8 270.8,73.8 272.2,73.8 273.7,73.8 275.2,73.8 276.7,73.7 278.1,73.7 279.6,73.7 281.1,73.7 282.6,73.7 284.0,73.7 285.5,73.7 287.0,73.7 288.4,73.7 289.9,73.7 291.4,73.7 292.9,73.7 294.3,73.7 295.8,73.7 297.3,73.7 298.7,73.7 300.2,73.7 301.7,73.7 303.2,73.7 304.6,73.7 306.1,73.7 307.6,73.7 309.1,73.7 310.5,73.7 312.0,73.7 313.5,73.7 314.9,73.6 316.4,73.6 317.9,73.6 319.4,73.6 320.8,73.6 322.3,73.6 323.8,73.6 325.3,73.6 326.7,73.6 328.2,73.6 329.7,73.6 331.1,73.6 332.6,73.6 334.1,73.6 335.6,73.6 337.0,73.6 338.5,73.6 340.0,73.6 341.5,73.6 342.9,73.6 344.4,73.6 345.9,73.6 347.3,73.6 348.8,73.6 350.3,73.6 351.8,73.6 353.2,73.6 354.7,73.6 356.2,73.6 357.6,73.6 359.1,73.6 360.6,73.6 362.1,73.6 363.5,73.6 365.0,73.6 366.5,73.6 368.0,73.6 369.4,73.6 370.9,73.5 372.4,73.5 373.8,73.5 375.3,73.5 376.8,73.5 378.3,73.5 379.7,73.5 381.2,73.5 382.7,73.5 384.2,73.5 385.6,73.5 387.1,73.5 388.6,73.5 390.0,73.5 391.5,73.5 393.0,73.5 394.5,73.5 395.9,73.5 397.4,73.5 398.9,73.5 400.4,73.5 401.8,73.5 403.3,73.5 404.8,73.5 406.2,73.5 407.7,73.5 409.2,73.5 410.7,73.5 412.1,73.5 413.6,73.5 415.1,73.5 416.5,73.5 418.0,73.5 419.5,73.5 421.0,73.5 422.4,73.5 423.9,73.5 425.4,73.5 426.9,73.5 428.3,73.5 429.8,73.5 431.3,73.5 432.7,73.5 434.2,73.5 435.7,73.5 437.2,73.5 438.6,73.5 440.1,73.5 441.6,73.5 443.1,73.5 444.5,73.5 446.0,73.5" fill="none" stroke="#000" stroke-width="1.4" stroke-dasharray="11.3 13.48" stroke-dashoffset="0"/>
<path d="M80.0 4.6h7.1v7.1h-7.1zM96.0 5.4h7.1v7.1h-7.1zM111.7 7.8h7.1v7.1h-7.1zM127.0 11.9h7.1v7.1h-7.1zM141.2 18.1h7.1v7.1h-7.1zM154.6 25.9h7.1v7.1h-7.1zM166.8 35.1h7.1v7.1h-7.1zM178.2 44.9h7.1v7.1h-7.1zM189.2 55.0h7.1v7.1h-7.1zM199.8 64.5h7.1v7.1h-7.1zM208.9 77.9h7.1v7.1h-7.1zM218.9 88.5h7.1v7.1h-7.1zM228.0 99.8h7.1v7.1h-7.1zM237.8 111.0h7.1v7.1h-7.1zM246.8 122.7h7.1v7.1h-7.1zM255.8 134.8h7.1v7.1h-7.1zM264.6 146.6h7.1v7.1h-7.1zM273.8 158.3h7.1v7.1h-7.1zM282.8 170.0h7.1v7.1h-7.1zM291.8 181.8h7.1v7.1h-7.1zM301.2 193.0h7.1v7.1h-7.1zM310.8 204.8h7.1v7.1h-7.1zM319.8 216.0h7.1v7.1h-7.1zM329.6 227.4h7.1v7.1h-7.1zM340.2 237.8h7.1v7.1h-7.1zM350.8 248.3h7.1v7.1h-7.1zM361.4 258.9h7.1v7.1h-7.1zM372.8 269.6h7.1v7.1h-7.1zM383.8 279.1h7.1v7.1h-7.1zM395.8 288.6h7.1v7.1h-7.1zM408.6 297.4h7.1v7.1h-7.1zM421.2 305.6h7.1v7.1h-7.1zM434.8 313.6h7.1v7.1h-7.1zM80.2 340.9h7.1v7.1h-7.1zM80.5 327.9h7.1v7.1h-7.1zM80.8 312.9h7.1v7.1h-7.1zM81.0 298.4h7.1v7.1h-7.1zM81.5 283.6h7.1v7.1h-7.1zM82.0 269.8h7.1v7.1h-7.1zM82.5 255.4h7.1v7.1h-7.1zM83.2 240.9h7.1v7.1h-7.1zM84.2 226.8h7.1v7.1h-7.1zM85.0 212.9h7.1v7.1h-7.1zM86.5 198.8h7.1v7.1h-7.1zM88.5 184.2h7.1v7.1h-7.1zM90.0 170.4h7.1v7.1h-7.1zM92.9 155.6h7.1v7.1h-7.1zM95.4 142.2h7.1v7.1h-7.1zM99.9 128.0h7.1v7.1h-7.1zM105.5 115.9h7.1v7.1h-7.1zM114.0 106.0h7.1v7.1h-7.1zM123.2 100.5h7.1v7.1h-7.1zM132.6 97.7h7.1v7.1h-7.1zM143.1 96.2h7.1v7.1h-7.1zM152.9 94.7h7.1v7.1h-7.1zM162.4 93.4h7.1v7.1h-7.1zM171.8 92.8h7.1v7.1h-7.1zM181.0 91.5h7.1v7.1h-7.1zM190.4 90.7h7.1v7.1h-7.1zM198.2 90.0h7.1v7.1h-7.1zM206.5 89.0h7.1v7.1h-7.1zM213.5 88.4h7.1v7.1h-7.1zM221.0 88.8h7.1v7.1h-7.1zM224.5 87.2h7.1v7.1h-7.1zM229.8 86.7h7.1v7.1h-7.1zM88.8 323.8h7.1v7.1h-7.1zM94.4 310.8h7.1v7.1h-7.1zM99.9 297.4h7.1v7.1h-7.1zM104.4 283.9h7.1v7.1h-7.1zM109.5 269.8h7.1v7.1h-7.1zM114.2 256.6h7.1v7.1h-7.1zM119.8 243.0h7.1v7.1h-7.1zM125.0 229.6h7.1v7.1h-7.1zM129.9 216.4h7.1v7.1h-7.1zM135.8 203.3h7.1v7.1h-7.1zM141.8 189.9h7.1v7.1h-7.1zM147.6 177.6h7.1v7.1h-7.1zM154.3 163.8h7.1v7.1h-7.1zM161.4 151.8h7.1v7.1h-7.1zM168.4 139.4h7.1v7.1h-7.1zM175.9 128.5h7.1v7.1h-7.1zM184.4 118.2h7.1v7.1h-7.1zM193.3 108.8h7.1v7.1h-7.1zM203.0 101.2h7.1v7.1h-7.1zM211.2 95.2h7.1v7.1h-7.1zM237.8 85.0h7.1v7.1h-7.1zM245.5 84.6h7.1v7.1h-7.1zM253.1 84.3h7.1v7.1h-7.1zM260.4 84.0h7.1v7.1h-7.1zM267.6 83.6h7.1v7.1h-7.1zM274.6 83.2h7.1v7.1h-7.1zM281.4 82.7h7.1v7.1h-7.1zM288.1 82.3h7.1v7.1h-7.1zM294.5 81.8h7.1v7.1h-7.1zM300.7 81.6h7.1v7.1h-7.1zM306.6 81.6h7.1v7.1h-7.1zM312.3 81.6h7.1v7.1h-7.1zM317.8 81.6h7.1v7.1h-7.1zM323.0 81.6h7.1v7.1h-7.1zM328.0 81.6h7.1v7.1h-7.1zM332.9 81.5h7.1v7.1h-7.1zM337.5 81.5h7.1v7.1h-7.1zM342.0 81.5h7.1v7.1h-7.1zM346.5 81.5h7.1v7.1h-7.1zM350.9 81.5h7.1v7.1h-7.1zM355.3 81.5h7.1v7.1h-7.1zM359.6 81.5h7.1v7.1h-7.1zM363.9 81.5h7.1v7.1h-7.1zM368.2 81.4h7.1v7.1h-7.1zM372.4 81.1h7.1v7.1h-7.1zM376.6 80.9h7.1v7.1h-7.1zM380.8 80.7h7.1v7.1h-7.1zM384.9 80.5h7.1v7.1h-7.1zM389.0 80.2h7.1v7.1h-7.1zM393.1 80.0h7.1v7.1h-7.1zM397.1 79.8h7.1v7.1h-7.1zM401.1 79.8h7.1v7.1h-7.1zM405.0 79.8h7.1v7.1h-7.1zM408.8 79.8h7.1v7.1h-7.1zM412.5 79.7h7.1v7.1h-7.1zM416.2 79.7h7.1v7.1h-7.1zM419.8 79.7h7.1v7.1h-7.1zM423.2 79.7h7.1v7.1h-7.1zM426.7 79.7h7.1v7.1h-7.1zM430.0 79.6h7.1v7.1h-7.1zM433.3 79.6h7.1v7.1h-7.1zM436.5 79.6h7.1v7.1h-7.1zM439.6 79.6h7.1v7.1h-7.1zM442.7 79.5h7.1v7.1h-7.1zM239.8 75.3h7.1v7.1h-7.1zM247.5 75.3h7.1v7.1h-7.1zM255.1 75.3h7.1v7.1h-7.1zM262.4 75.2h7.1v7.1h-7.1zM269.6 75.2h7.1v7.1h-7.1zM276.6 75.1h7.1v7.1h-7.1zM283.4 75.1h7.1v7.1h-7.1zM290.1 74.8h7.1v7.1h-7.1zM296.5 73.9h7.1v7.1h-7.1zM302.7 73.0h7.1v7.1h-7.1zM308.6 72.1h7.1v7.1h-7.1zM354.4 66.0h7.1v7.1h-7.1zM358.8 66.0h7.1v7.1h-7.1zM363.0 66.0h7.1v7.1h-7.1zM367.2 65.9h7.1v7.1h-7.1zM371.4 65.9h7.1v7.1h-7.1zM375.6 65.8h7.1v7.1h-7.1zM379.7 65.8h7.1v7.1h-7.1zM383.8 65.8h7.1v7.1h-7.1zM387.9 65.7h7.1v7.1h-7.1zM391.9 65.7h7.1v7.1h-7.1zM395.9 65.7h7.1v7.1h-7.1zM399.9 65.6h7.1v7.1h-7.1zM403.9 65.6h7.1v7.1h-7.1zM407.8 65.6h7.1v7.1h-7.1zM411.6 65.6h7.1v7.1h-7.1zM415.5 65.5h7.1v7.1h-7.1zM419.3 65.5h7.1v7.1h-7.1zM423.1 65.5h7.1v7.1h-7.1zM426.8 65.5h7.1v7.1h-7.1zM430.6 65.4h7.1v7.1h-7.1zM434.3 65.4h7.1v7.1h-7.1zM437.9 65.4h7.1v7.1h-7.1zM441.6 65.4h7.1v7.1h-7.1z" fill="none" stroke="#000" stroke-width="1.5" stroke-linejoin="round"/>
<path d="M79.6 68.3H238L260 67.6L300 67.5L330 66.6L355 65.3L362 68.0H450.2V80.0L370 79.8L330 79.2L300 78.3L240 78.3L79.6 78.6Z" fill="#000"/>
<text x="22.57" y="79.9" font-size="18.7" textLength="53.94" lengthAdjust="spacingAndGlyphs">20000</text>
<text x="21.49" y="159.6" font-size="18.7" textLength="55.04" lengthAdjust="spacingAndGlyphs">15000</text>
<text x="21.49" y="239.4" font-size="18.7" textLength="55.04" lengthAdjust="spacingAndGlyphs">10000</text>
<text x="33.02" y="319.2" font-size="18.7" textLength="44.24" lengthAdjust="spacingAndGlyphs">5000</text>
<text x="78.16" y="398.2" font-size="18.7">0</text>
<text x="178.79" y="398.2" font-size="18.7" textLength="51.54" lengthAdjust="spacingAndGlyphs">3E-09</text>
<text x="299.49" y="398.2" font-size="18.7" textLength="50.6" lengthAdjust="spacingAndGlyphs">6E-09</text>
<text x="420.27" y="398.2" font-size="18.7" textLength="51.54" lengthAdjust="spacingAndGlyphs">9E-09</text>
<text x="464.7" y="384.4" font-size="18.7">0</text>
<text x="465.06" y="310.4" font-size="18.7" textLength="26.74" lengthAdjust="spacingAndGlyphs">0.2</text>
<text x="465.06" y="236.4" font-size="18.7" textLength="26.74" lengthAdjust="spacingAndGlyphs">0.4</text>
<text x="465.06" y="162.5" font-size="18.7" textLength="26.74" lengthAdjust="spacingAndGlyphs">0.6</text>
<text x="465.06" y="88.6" font-size="18.7" textLength="26.74" lengthAdjust="spacingAndGlyphs">0.8</text>
<text x="466.1" y="14.6" font-size="18.7">1</text>
<text x="94.48" y="58.0" font-size="20" font-weight="bold" textLength="55.72" lengthAdjust="spacingAndGlyphs">Trans</text>
<text x="115.29" y="142.1" font-size="20" font-weight="bold" textLength="33.64" lengthAdjust="spacingAndGlyphs">Rot</text>
<text x="142.1" y="243.6" font-size="20" font-weight="bold" textLength="31.07" lengthAdjust="spacingAndGlyphs">Vib</text>
<text x="317.0" y="200.0" font-size="20" font-weight="bold" textLength="93.35" lengthAdjust="spacingAndGlyphs">[N<tspan font-size="12.4" dy="4.6">2</tspan><tspan dy="-4.6">] / [N</tspan><tspan font-size="12.4" dy="4.6">2</tspan><tspan dy="-4.6">]</tspan><tspan font-size="12.4" dy="4.6">0</tspan></text>
<text x="204.69" y="322.0" font-size="14" font-weight="bold" textLength="96.92" lengthAdjust="spacingAndGlyphs">Present Model</text>
<text x="204.7" y="338.4" font-size="14" font-weight="bold" textLength="166.16" lengthAdjust="spacingAndGlyphs">Model (Boltzmann Mode)</text>
<text x="204.68" y="356.0" font-size="14" font-weight="bold" textLength="175.46" lengthAdjust="spacingAndGlyphs">DMS (Valentini et al. 2016)</text>
<text x="232.49" y="418.0" font-size="21.5" font-weight="bold" textLength="77.79" lengthAdjust="spacingAndGlyphs">time (s)</text>
<text x="-283.52" y="17.1" font-size="21" font-weight="bold" textLength="189.61" lengthAdjust="spacingAndGlyphs" transform="rotate(-90)">Trans, Rot, Vib [K]</text>
<text x="-243.49" y="511.8" font-size="21" font-weight="bold" textLength="99.85" lengthAdjust="spacingAndGlyphs" transform="rotate(-90)">[N<tspan font-size="11.5" dy="6.4">2</tspan><tspan dy="-6.4">] / [N</tspan><tspan font-size="11.5" dy="6.4">2</tspan><tspan dy="-6.4">]</tspan><tspan font-size="11.5" dy="6.4">0</tspan></text>
<path d="M129.9 317.3H193.9" stroke="#000" stroke-width="1.5"/>
<path d="M129.9 334.5H193.9" stroke="#000" stroke-width="1.5" stroke-dasharray="10.4 10.4"/>
<rect x="158.1" y="348.3" width="7.6" height="7.6" fill="none" stroke="#000" stroke-width="1.5"/>
</svg>
</body></html>
